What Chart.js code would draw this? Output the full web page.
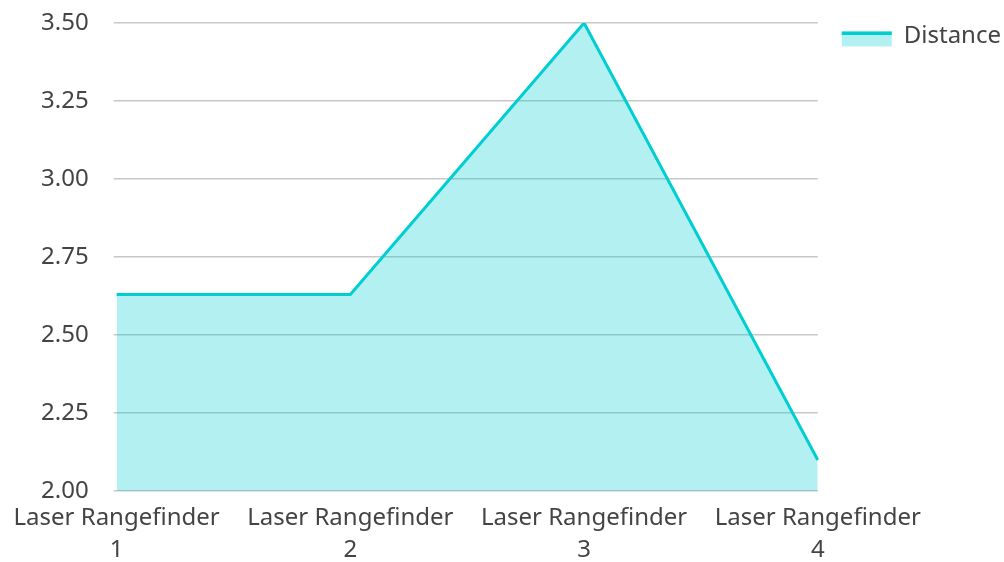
<!DOCTYPE html>
<html>
<head>
<meta charset="utf-8">
<script src="https://cdn.jsdelivr.net/npm/chart.js@4"></script>
<style>
  html, body { margin: 0; padding: 0; background: #fff; }
  #wrap { width: 1004px; height: 562px; }
</style>
</head>
<body>
<div id="wrap"><canvas id="distChart" width="1004" height="562"></canvas></div>
<script>
const categories = [
  ['Laser Rangefinder', '1'],
  ['Laser Rangefinder', '2'],
  ['Laser Rangefinder', '3'],
  ['Laser Rangefinder', '4']
];
const distance = [2.63, 2.63, 3.50, 2.10];
const yTicks = [2.00, 2.25, 2.50, 2.75, 3.00, 3.25, 3.50];

const LINE = '#00CED1';
const FILL = 'rgba(0, 206, 209, 0.3)';
const TEXT = '#444444';

// legend swatch: filled box with the line colour along its top edge
const legendSwatch = {
  id: 'legendSwatch',
  afterLayout(chart) {
    const lg = chart.legend;
    if (!lg) return;
    lg.left += 12;
    lg.right += 12;
  },
  afterDraw(chart) {
    const lg = chart.legend;
    if (!lg || !lg.legendHitBoxes || !lg.legendHitBoxes.length) return;
    const hb = lg.legendHitBoxes[0];
    const ctx = chart.ctx;
    const top = hb.top + hb.height / 2 - 5;
    ctx.save();
    ctx.fillStyle = FILL;
    ctx.fillRect(hb.left, top, 50, 15);
    ctx.strokeStyle = LINE;
    ctx.lineWidth = 3.5;
    ctx.beginPath();
    ctx.moveTo(hb.left, top + 1.75);
    ctx.lineTo(hb.left + 50, top + 1.75);
    ctx.stroke();
    ctx.restore();
  }
};

const ctx = document.getElementById('distChart').getContext('2d');
new Chart(ctx, {
  type: 'line',
  data: {
    labels: categories,
    datasets: [{
      label: 'Distance',
      data: distance,
      borderColor: LINE,
      backgroundColor: FILL,
      borderWidth: 3,
      fill: 'start',
      pointRadius: 0,
      tension: 0
    }]
  },
  options: {
    responsive: false,
    animation: false,
    layout: { padding: { top: 0, right: 5, bottom: -7, left: 16 } },
    plugins: {
      tooltip: { enabled: false },
      legend: {
        position: 'right',
        align: 'start',
        title: { display: true, text: ' ', font: { size: 2 }, padding: { top: 10, bottom: 0 } },
        labels: {
          color: TEXT,
          font: { family: 'Noto Sans', size: 24 },
          boxWidth: 50,
          boxHeight: 15,
          padding: 12,
          generateLabels(chart) {
            return chart.data.datasets.map((ds, i) => ({
              text: ds.label,
              fillStyle: 'rgba(0,0,0,0)',
              strokeStyle: 'rgba(0,0,0,0)',
              lineWidth: 0,
              fontColor: TEXT,
              datasetIndex: i
            }));
          }
        }
      }
    },
    scales: {
      x: {
        offset: false,
        grid: { display: false },
        border: { display: false },
        ticks: {
          color: TEXT,
          font: { family: 'Noto Sans', size: 24, lineHeight: 1.33 },
          maxRotation: 0,
          autoSkip: false,
          padding: 3
        }
      },
      y: {
        min: yTicks[0],
        max: yTicks[yTicks.length - 1],
        afterBuildTicks(axis) {
          axis.ticks = yTicks.map(v => ({ value: v }));
        },
        afterFit(axis) {
          axis.paddingTop = 23;
        },
        grid: { color: '#c8c8c8', lineWidth: 1.5, tickLength: 3 },
        border: { display: false },
        ticks: {
          color: TEXT,
          font: { family: 'Noto Sans', size: 24 },
          padding: 25,
          callback: v => Number(v).toFixed(2)
        }
      }
    }
  },
  plugins: [legendSwatch]
});
</script>
</body>
</html>
